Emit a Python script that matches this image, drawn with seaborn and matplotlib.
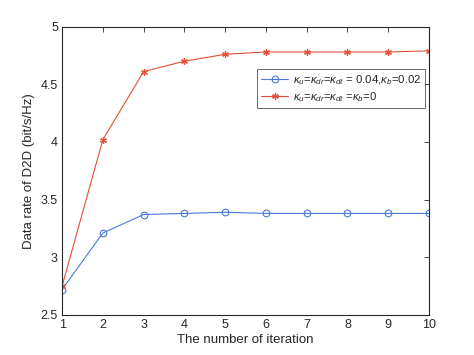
import matplotlib
matplotlib.use("Agg")
import matplotlib.pyplot as plt
import seaborn as sns
import pandas as pd

iterations = [1, 2, 3, 4, 5, 6, 7, 8, 9, 10]
rate_imperfect = [2.72, 3.21, 3.37, 3.38, 3.39, 3.38, 3.38, 3.38, 3.38, 3.38]
rate_perfect = [2.75, 4.02, 4.61, 4.70, 4.76, 4.78, 4.78, 4.78, 4.78, 4.79]
label_imperfect = r'$\kappa_u$=$\kappa_{dr}$=$\kappa_{dt}$ = 0.04,$\kappa_b$=0.02'
label_perfect = r'$\kappa_u$=$\kappa_{dr}$=$\kappa_{dt}$ =$\kappa_b$=0'
yticks = [2.5, 3, 3.5, 4, 4.5, 5]
ytick_labels = ['2.5', '3', '3.5', '4', '4.5', '5']

sns.set_theme(style="white")
plt.rcParams['font.family'] = ['Liberation Sans', 'DejaVu Sans']
plt.rcParams['mathtext.fontset'] = 'custom'
plt.rcParams['mathtext.rm'] = 'Liberation Sans'
plt.rcParams['mathtext.it'] = 'Liberation Sans:italic'

df1 = pd.DataFrame({'x': iterations, 'y': rate_imperfect})
df2 = pd.DataFrame({'x': iterations, 'y': rate_perfect})

fig = plt.figure(figsize=(4.74, 3.55), dpi=100)
ax = fig.add_axes([0.131, 0.113, 0.774, 0.812])

blue = '#4a7bd6'
red = '#e4503a'
sns.lineplot(data=df1, x='x', y='y', ax=ax, color=blue, linewidth=0.8,
             marker='o', markersize=4.8, markerfacecolor='none',
             markeredgecolor=blue, markeredgewidth=0.8, label=label_imperfect)
sns.lineplot(data=df2, x='x', y='y', ax=ax, color=red, linewidth=0.8,
             marker=(6, 2, 0), markersize=4.8,
             markeredgecolor=red, markeredgewidth=0.9, label=label_perfect)

ax.set_xlim(1, 10)
ax.set_ylim(2.5, 5)
ax.set_xticks(iterations)
ax.set_xticklabels([str(i) for i in iterations])
ax.set_yticks(yticks)
ax.set_yticklabels(ytick_labels)
ax.set_xlabel('The number of iteration', fontsize=9.5, color='#262626', labelpad=2)
ax.set_ylabel('Data rate of D2D (bit/s/Hz)', fontsize=9.5, color='#262626', labelpad=4)

for s in ax.spines.values():
    s.set_visible(True)
    s.set_color('#262626')
    s.set_linewidth(0.8)
ax.tick_params(direction='in', length=3.5, width=0.6, top=True, right=True,
               labelsize=9, colors='#262626', pad=3)

leg = ax.legend(loc='upper right', bbox_to_anchor=(0.99, 0.852), fontsize=8.2,
                frameon=True, fancybox=False, edgecolor='#262626',
                borderpad=0.35, labelspacing=0.3, handlelength=2.4,
                handletextpad=0.4, borderaxespad=0)
leg.get_frame().set_linewidth(0.6)

fig.savefig('out.png', dpi=100, facecolor='white')
